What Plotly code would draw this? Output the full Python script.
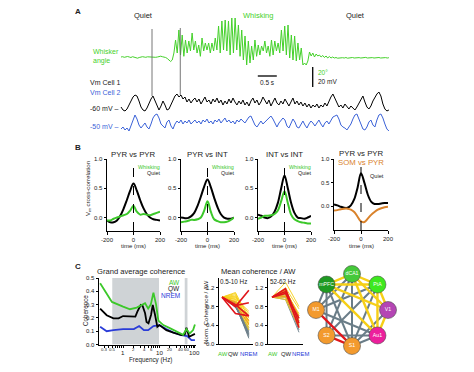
import numpy as np
import plotly.graph_objects as go

W, H = 474, 372
FONT = "Liberation Sans, Arial, Helvetica, sans-serif"

# ======================= DATA =======================
# ---- Panel A : example traces (sampled uniformly over the recording) ----
trace_duration_s = 7.05
whisker_angle_deg = [
    0, 0.3, -0.3, 0, 0.5, 0, -0.5, 0.3, 0, -0.8, -1.2, -0.5, 0, 0.3, 0, -0.3,
    0.2, 0, 0.5, 0.3, 0, -0.3, 0, 0.4, 0.8, 0.3, 0, -0.5, -1.5, -3, -4.5, -3,
    4,
    17, 4, 27, 2, 22, 0.7, 17, 4, 16, 6, 24, 7, 16, 4, 12, 0.7, 19, 6, 14, 7,
    14, 4, 14, 6, 19, 7, 31, 4, 36, 7, 37, 6, 36, 2, 39, 4, 39, 7, 32, 0.7,
    27, -3, 21, -8, 16, -6, 11, -3, 17, 0.7, 12, 2, 11, 6, 16, 4, 11, 0.7,
    17, 2, 16, 6, 14, 4, 27, 6, 31, 2, 32, -1, 22, -3, 21, -4, 14, -3, 9, -8,
    -6, -8, -4, 5, 1, 4, 0, 3, 1, 2, 0, 1.5, -0.5, 1, -1, 0.5, -1, 0, -1, -0.5,
    -1.2, -0.8, -1, -0.7, -1, -0.5, -1.2, -0.8, -1, -0.5, -1, -0.8, -1.2, -0.6,
    -1, -0.8, -1, -0.4, -1, -0.8, -1.2, -0.6, -1, -0.8, -1, -0.5, -1, -0.8,
    -1.2, -0.6, -1, -0.7,
]
vm_cell1_mV = [
    -58, -61, -62, -60, -56, -52, -48, -46, -47, -52, -58, -61, -62, -59, -54, -50,
    -47, -52, -58, -61, -57, -52, -56, -61, -60, -55, -50, -47, -45, -48, -46, -50,
    -48, -53, -50, -54, -51, -49, -53, -50, -55, -52, -48, -53, -51, -55, -50, -53,
    -49, -54, -51, -56, -52, -55, -50, -54, -49, -53, -56, -52, -55, -51, -56, -53,
    -57, -52, -49, -54, -51, -56, -53, -48, -52, -55, -51, -57, -53, -49, -54, -56,
    -52, -55, -50, -54, -57, -53, -49, -55, -52, -56, -53, -57, -54, -58, -55, -59,
    -56, -58, -55, -59, -56, -58, -54, -57, -52, -48, -45, -50, -55, -58, -56, -59,
    -55, -58, -60, -57, -59, -61, -58, -54, -50, -47, -53, -58, -60, -57, -52, -48,
    -45, -43, -47, -55, -60, -62, -61,
]
vm_cell2_mV = [
    -52, -50, -53, -51, -54, -49, -42, -38, -42, -48, -51, -48, -46, -50, -52, -47,
    -41, -38, -37, -41, -47, -49, -51, -45, -43, -49, -52, -47, -44, -46, -43, -47,
    -44, -46, -43, -47, -45, -43, -46, -44, -47, -43, -45, -42, -46, -44, -47, -43,
    -45, -42, -46, -44, -41, -45, -43, -46, -44, -47, -43, -45, -42, -44, -46, -43,
    -40, -39, -43, -48, -50, -47, -44, -47, -45, -42, -40, -39, -42, -47, -50, -46,
    -43, -41, -43, -49, -51, -46, -42, -45, -50, -51, -47, -44, -48, -51, -47, -44,
    -46, -49, -46, -43, -47, -50, -46, -44, -47, -43, -40, -39, -38, -42, -48, -50,
    -51, -53, -50, -47, -42, -38, -37, -42, -49, -52, -53, -50, -45, -43, -48, -50,
    -43, -38, -37, -41, -47, -52, -54,
]
spike_times_s = [0.816, 1.56]
spike_base_mV = [-47, -46]
spike_peak_mV = [20, 21]
state_names = ["Quiet", "Whisking", "Quiet"]
state_label_times_s = [0.58, 3.6, 6.18]

# ---- Panel B : Vm cross-correlations ----
lag_ms = [-200, -175, -150, -125, -100, -75, -50, -25, 0, 25, 50, 75, 100, 125, 150, 175, 200]
xcorr_titles = ["PYR vs PYR", "PYR vs INT", "INT vs INT", "PYR vs PYR"]
xcorr_quiet = [
    [-0.05, -0.08, -0.08, -0.05, 0.03, 0.15, 0.30, 0.46, 0.58, 0.46, 0.30, 0.16, 0.06, 0.0, -0.03, -0.04, -0.05],
    [0.0, -0.01, -0.01, 0.02, 0.08, 0.20, 0.36, 0.53, 0.65, 0.52, 0.34, 0.18, 0.06, 0.0, -0.02, -0.02, 0.0],
    [0.05, 0.03, 0.0, -0.01, 0.02, 0.10, 0.25, 0.50, 0.72, 0.50, 0.25, 0.08, 0.0, -0.01, -0.02, 0.0, 0.03],
    [0.04, 0.02, -0.01, -0.03, -0.03, 0.02, 0.15, 0.40, 0.70, 0.50, 0.25, 0.10, 0.05, 0.05, 0.06, 0.07, 0.07],
]
xcorr_whisking = [
    [-0.05, -0.05, -0.02, 0.0, 0.02, 0.04, 0.06, 0.12, 0.20, 0.10, 0.05, 0.06, 0.05, 0.04, 0.06, 0.08, 0.10],
    [-0.08, -0.07, -0.06, -0.04, -0.04, -0.03, 0.0, 0.12, 0.28, 0.10, -0.03, -0.06, -0.08, -0.08, -0.07, -0.04, 0.0],
    [-0.02, 0.0, 0.03, 0.03, 0.04, 0.06, 0.12, 0.28, 0.45, 0.25, 0.05, -0.03, -0.06, -0.08, -0.09, -0.10, -0.10],
    None,
]
xcorr_som_pyr = [-0.09, -0.08, -0.06, -0.05, -0.05, -0.07, -0.12, -0.22, -0.32, -0.33, -0.26, -0.18, -0.12, -0.07, -0.04, -0.02, -0.01]

# ---- Panel C : coherence ----
freq_aw = [0.23, 0.32, 0.49, 1.0, 1.56, 2.4, 3.3, 4.1, 5.0, 5.9, 7.0, 8.3, 9.6, 13.2, 20, 31, 47, 58, 72, 89, 100]
coh_aw = [0.46, 0.40, 0.32, 0.285, 0.265, 0.277, 0.30, 0.31, 0.27, 0.30, 0.39, 0.30, 0.18, 0.146, 0.123, 0.095, 0.073, 0.116, 0.083, 0.108, 0.15]
freq_qw = [0.23, 0.35, 0.54, 0.75, 1.0, 1.56, 2.2, 2.5, 3.1, 3.5, 4.1, 4.5, 5.1, 6.0, 6.7, 7.8, 9.0, 10.3, 16, 25, 42, 52, 58, 69, 89, 100]
coh_qw = [0.27, 0.22, 0.197, 0.197, 0.214, 0.21, 0.21, 0.247, 0.297, 0.29, 0.235, 0.17, 0.16, 0.222, 0.298, 0.22, 0.133, 0.146, 0.108, 0.09, 0.07, 0.075, 0.126, 0.058, 0.07, 0.08]
freq_nrem = [0.23, 0.35, 0.54, 1.0, 2.0, 2.8, 3.8, 5.0, 7.0, 10.3, 16, 25, 42, 61, 80, 100]
coh_nrem = [0.133, 0.10, 0.108, 0.116, 0.116, 0.139, 0.108, 0.108, 0.139, 0.146, 0.116, 0.09, 0.07, 0.063, 0.033, 0.033]
shaded_bands_hz = [[0.5, 10], [52, 62]]
freq_tick_small = [0.3, 0.5, 2, 4, 6, 20, 40, 60]
freq_tick_decade = [1, 10, 100]

states = ["AW", "QW", "NREM"]
# each row: normalized coherence at AW, QW, NREM
c2_gray = [[1, 0.85, 0.15], [1, 0.82, 0.20], [1, 0.80, 0.25], [1, 0.88, 0.30], [1, 0.84, 0.12],
           [1, 0.78, 0.35], [1, 0.86, 0.22], [1, 0.83, 0.28], [1, 0.80, 0.18]]
c2_yellow = [[1, 1.05, 0.45], [1, 1.10, 0.55], [1, 0.95, 0.35], [1, 1.00, 0.60], [1, 0.92, 0.50],
             [1, 1.08, 0.40], [1, 0.98, 0.70], [1, 0.90, 0.30], [1, 1.02, 0.65], [1, 0.96, 0.48]]
c2_orange = [[1, 0.90, 0.50], [1, 0.86, 0.42]]
c2_red = [[1, 0.80, 1.15], [1, 0.82, 0.88], [1, 0.65, 0.60], [1, 0.84, 0.60]]
c3_gray = [[1, 1.05, 0.40], [1, 1.00, 0.30], [1, 0.95, 0.25], [1, 1.10, 0.50]]
c3_yellow = [[1, 1.32, 0.80], [1, 1.20, 0.75], [1, 1.15, 0.60], [1, 1.10, 0.55], [1, 1.05, 0.50],
             [1, 1.00, 0.45], [1, 0.95, 0.35], [1, 1.12, 0.65], [1, 1.08, 0.40]]
c3_orange = [[1, 1.15, 0.60], [1, 1.02, 0.42]]
c3_red = [[1, 1.18, 0.45], [1, 1.12, 0.35], [1, 1.08, 0.55]]

network_nodes = ["dCA1", "PtA", "V1", "Au1", "S1", "S2", "M1", "mPFC"]
node_colors = ["#45c93a", "#3ee81f", "#b446b4", "#ec1f9c", "#f39a2e", "#f39a2e", "#f39a2e", "#1f9a22"]
edges_gray = [("mPFC", "M1"), ("mPFC", "S2"), ("mPFC", "S1"), ("dCA1", "M1"), ("dCA1", "S2"),
              ("dCA1", "S1"), ("PtA", "S2"), ("PtA", "S1"), ("PtA", "M1"), ("S1", "Au1"),
              ("S2", "Au1"), ("M1", "Au1"), ("V1", "S1")]
edges_yellow = [("mPFC", "dCA1"), ("mPFC", "PtA"), ("dCA1", "PtA"), ("mPFC", "V1"), ("mPFC", "Au1"),
                ("dCA1", "V1"), ("dCA1", "Au1"), ("PtA", "V1"), ("PtA", "Au1"), ("V1", "Au1")]
edges_red = [("M1", "S1"), ("S2", "S1")]

# ======================= STYLE =======================
GREEN = "#45d12b"
GREEN_B = "#3cc82a"
BLUE_A = "#3b62d8"
BLUE_N = "#2a3cd8"
ORANGE = "#d9822b"
GRAY_L = "#6a7d88"
YELLOW = "#f6cf17"
RED = "#e0161b"
TXT = "#222"


def dx(a, b):
    return [a / W, b / W]


def dy(top, bottom):
    return [1 - bottom / H, 1 - top / H]


def axstyle(**kw):
    d = dict(showline=True, linecolor="black", linewidth=1, ticks="outside", ticklen=2.5,
             tickwidth=1, tickcolor="black", showgrid=False, zeroline=False,
             tickfont=dict(size=6, family=FONT, color=TXT), fixedrange=True, tickangle=0)
    d.update(kw)
    return d


fig = go.Figure()
layout = dict(width=W, height=H, margin=dict(l=0, r=0, t=0, b=0, autoexpand=False),
              paper_bgcolor="white", plot_bgcolor="rgba(0,0,0,0)", showlegend=False,
              font=dict(family=FONT, size=7, color="black"), hovermode=False)
annotations = []
shapes = []


def ann(text, px, py, size=7, color="black", xanchor="center", **kw):
    annotations.append(dict(text=text, x=px / W, y=1 - py / H, xref="paper", yref="paper",
                            showarrow=False, xanchor=xanchor, yanchor="middle",
                            font=dict(size=size, color=color, family=FONT), **kw))


# ======================= PANEL A =======================
A_T0_PX, A_PPS = 121, 38.0
layout["xaxis"] = dict(domain=dx(115, 395), range=[(115 - A_T0_PX) / A_PPS, (395 - A_T0_PX) / A_PPS],
                       visible=False, anchor="y", fixedrange=True)
layout["yaxis"] = dict(domain=dy(10, 75), range=[57 - 75, 57 - 10], visible=False, anchor="x", fixedrange=True)
layout["yaxis2"] = dict(domain=dy(20, 130), range=[49 - 130, 49 - 20], visible=False, anchor="x", fixedrange=True)
layout["yaxis3"] = dict(domain=dy(100, 140), range=[77 - 140, 77 - 100], visible=False, anchor="x", fixedrange=True)

t_w = np.linspace(0, trace_duration_s, len(whisker_angle_deg))
t_v1 = np.linspace(0, trace_duration_s, len(vm_cell1_mV))
t_v2 = np.linspace(0, trace_duration_s, len(vm_cell2_mV))
fig.add_trace(go.Scatter(x=t_w, y=whisker_angle_deg, xaxis="x", yaxis="y", mode="lines",
                         line=dict(color=GREEN, width=1)))
sx, sy = [], []
for t, b, p in zip(spike_times_s, spike_base_mV, spike_peak_mV):
    sx += [t, t, None]
    sy += [b, p, None]
fig.add_trace(go.Scatter(x=sx, y=sy, xaxis="x", yaxis="y2", mode="lines", line=dict(color="#666", width=0.9)))
fig.add_trace(go.Scatter(x=t_v1, y=vm_cell1_mV, xaxis="x", yaxis="y2", mode="lines",
                         line=dict(color="black", width=1)))
fig.add_trace(go.Scatter(x=t_v2, y=vm_cell2_mV, xaxis="x", yaxis="y3", mode="lines",
                         line=dict(color=BLUE_A, width=1)))

for name, t in zip(state_names, state_label_times_s):
    annotations.append(dict(text=name, x=t, y=1 - 16 / H, xref="x", yref="paper", showarrow=False,
                            yanchor="middle", font=dict(size=7.5, family=FONT,
                                                        color=GREEN if name == "Whisking" else TXT)))
# scale bars
shapes.append(dict(type="line", xref="x", yref="y2", x0=3.6, x1=4.1, y0=49 - 76, y1=49 - 76,
                   line=dict(color="black", width=1.3)))
shapes.append(dict(type="line", xref="x", yref="y2", x0=5.045, x1=5.045, y0=49 - 67, y1=49 - 87,
                   line=dict(color="black", width=1.3)))
annotations.append(dict(text="0.5 s", x=3.85, y=1 - 82 / H, xref="x", yref="paper", showarrow=False,
                        yanchor="middle", font=dict(size=6.5, family=FONT, color=TXT)))
ann("20°", 316, 72, 6.5, GREEN, "left")
ann("20 mV", 316, 81, 6.5, TXT, "left")
ann("Whisker", 91, 52, 7, GREEN, "left")
ann("angle", 91, 61, 7, GREEN, "left")
ann("Vm Cell 1", 88, 82, 7, TXT, "left")
ann("Vm Cell 2", 88, 92, 7, BLUE_A, "left")
ann("-60 mV –", 88, 109, 7, TXT, "left")
ann("-50 mV –", 88, 127, 7, BLUE_A, "left")
ann("<b>A</b>", 78, 12, 8, TXT)
ann("<b>B</b>", 78, 147, 8, TXT)
ann("<b>C</b>", 78, 266, 8, TXT)

# ======================= PANEL B =======================
b_x = [(107, 160), (181, 234), (258, 311), (334, 388)]
for i in range(4):
    xa, ya = f"xaxis{2 + i}", f"yaxis{4 + i}"
    xr, yr = f"x{2 + i}", f"y{4 + i}"
    if i < 3:
        yrange, ybot = [-0.23, 1.0], 231
    else:
        yrange, ybot = [-0.5, 1.0], 230
    layout[xa] = axstyle(domain=dx(*b_x[i]), range=[-200, 200], anchor=yr,
                         tickvals=[-200, 0, 200], ticktext=["-200", "0", "200"])
    layout[ya] = axstyle(domain=dy(159, ybot), range=yrange, anchor=xr,
                         tickvals=[0, 0.5, 1.0], ticktext=["0.0", "0.5", "1.0"])
    shapes.append(dict(type="line", xref=xr, yref=yr, x0=0, x1=0, y0=yrange[0], y1=0.9,
                       line=dict(color="black", width=1, dash="dash")))
    fig.add_trace(go.Scatter(x=lag_ms, y=xcorr_quiet[i], xaxis=xr, yaxis=yr, mode="lines",
                             line=dict(color="black", width=2, shape="spline")))
    if xcorr_whisking[i] is not None:
        fig.add_trace(go.Scatter(x=lag_ms, y=xcorr_whisking[i], xaxis=xr, yaxis=yr, mode="lines",
                                 line=dict(color=GREEN_B, width=2, shape="spline")))
    else:
        fig.add_trace(go.Scatter(x=lag_ms, y=xcorr_som_pyr, xaxis=xr, yaxis=yr, mode="lines",
                                 line=dict(color=ORANGE, width=2, shape="spline")))
    cx = (b_x[i][0] + b_x[i][1]) / 2
    ann(xcorr_titles[i], cx, 154 if i < 3 else 153, 7.8, TXT)
    ann("time (ms)", cx, 246, 6, TXT)
    if i < 3:
        ann("Whisking", b_x[i][1] + 2, 167, 5.4, GREEN_B, "right")
        ann("Quiet", b_x[i][1] + 2, 173.5, 5.4, TXT, "right")
ann("SOM vs PYR", 361, 162, 7.8, ORANGE)
ann("Quiet", 386, 176, 5.6, TXT, "right")
ann("V<sub>m</sub> cross-correlation", 88, 188, 6.2, TXT, textangle=-90)

# ======================= PANEL C1 =======================
all_ticks = [0.3, 0.4, 0.5, 0.6, 0.7, 0.8, 0.9, 1, 2, 3, 4, 5, 6, 7, 8, 9, 10, 20, 30, 40, 50, 60, 70, 80, 90, 100]
layout["xaxis6"] = axstyle(domain=dx(99, 196), type="log", range=[-0.67, 2.03], anchor="y8",
                           tickvals=all_ticks, showticklabels=False, ticklen=2)
layout["yaxis8"] = axstyle(domain=dy(278, 344.5), range=[0, 0.5], anchor="x6",
                           tickvals=[0, 0.1, 0.2, 0.3, 0.4, 0.5],
                           ticktext=["0.0", "0.1", "0.2", "0.3", "0.4", "0.5"])
for lo, hi in shaded_bands_hz:
    fig.add_trace(go.Scatter(x=[lo, hi, hi, lo, lo], y=[0, 0, 0.5, 0.5, 0], xaxis="x6", yaxis="y8",
                             mode="lines", fill="toself", fillcolor="#cfd3d6", line=dict(width=0)))
fig.add_trace(go.Scatter(x=freq_nrem, y=coh_nrem, xaxis="x6", yaxis="y8", mode="lines",
                         line=dict(color=BLUE_N, width=1.8)))
fig.add_trace(go.Scatter(x=freq_qw, y=coh_qw, xaxis="x6", yaxis="y8", mode="lines",
                         line=dict(color="black", width=1.8)))
fig.add_trace(go.Scatter(x=freq_aw, y=coh_aw, xaxis="x6", yaxis="y8", mode="lines",
                         line=dict(color=GREEN_B, width=1.8)))
for v in freq_tick_small:
    annotations.append(dict(text=str(v), x=np.log10(v), y=1 - 349 / H, xref="x6", yref="paper",
                            showarrow=False, yanchor="middle",
                            font=dict(size=4.3, family=FONT, color=TXT)))
for v in freq_tick_decade:
    annotations.append(dict(text=str(v), x=np.log10(v), y=1 - 352.5 / H, xref="x6", yref="paper",
                            showarrow=False, yanchor="middle",
                            font=dict(size=6.2, family=FONT, color=TXT)))
ann("Grand average coherence", 141, 271, 7.6, TXT)
ann("Frequency (Hz)", 150, 359.5, 6.3, TXT)
ann("Coherence", 85, 311, 6.3, TXT, textangle=-90)
ann("AW", 182, 282, 6.5, GREEN_B, "right")
ann("QW", 182, 288.5, 6.5, TXT, "right")
ann("NREM", 182, 295, 6.5, BLUE_N, "right")

# ======================= PANEL C2 / C3 =======================
c_panels = [("xaxis7", "yaxis9", "x7", "y9", (219, 253), [-0.23, 2.31],
             [c2_gray, c2_yellow, c2_orange, c2_red], [223, 233.5, 248.5]),
            ("xaxis8", "yaxis10", "x8", "y10", (268, 303), [-0.296, 2.296],
             [c3_gray, c3_yellow, c3_orange, c3_red], [273, 286, 300])]
grp_style = [(GRAY_L, 0.9), (YELLOW, 0.9), ("#f0a020", 1.1), (RED, 1.6)]
state_colors = [GREEN_B, TXT, BLUE_N]
for xa, ya, xr, yr, dom, xrng, groups, lab_px in c_panels:
    layout[xa] = axstyle(domain=dx(*dom), range=xrng, anchor=yr, ticks="",
                         tickvals=[0, 1, 2], showticklabels=False)
    layout[ya] = axstyle(domain=dy(278, 344), range=[0, 1.41], anchor=xr,
                         tickvals=[0, 0.4, 0.8, 1.2], ticktext=["0.0", "0.4", "0.8", "1.2"])
    for g, (col, wdt) in zip(groups, grp_style):
        for row in g:
            fig.add_trace(go.Scatter(x=[0, 1, 2], y=row, xaxis=xr, yaxis=yr, mode="lines",
                                     line=dict(color=col, width=wdt)))
    for s, c, lp in zip(states, state_colors, lab_px):
        ann(s, lp, 353.5, 5.9, c)
ann("Mean coherence / AW", 258, 271, 7.6, TXT)
ann("0.5-10 Hz", 233, 281, 6.3, TXT)
ann("52-62 Hz", 283, 281, 6.3, TXT)
ann("Norm. Coherence / AW", 205, 312, 6.2, TXT, textangle=-90)

# ======================= NETWORK =======================
R_PX, CX, CY = 36.0, 352, 310
layout["xaxis9"] = dict(domain=dx(300, 405), range=[(300 - CX) / R_PX, (405 - CX) / R_PX],
                        visible=False, anchor="y11", fixedrange=True)
layout["yaxis11"] = dict(domain=dy(262, 360), range=[(CY - 360) / R_PX, (CY - 262) / R_PX],
                         visible=False, anchor="x9", fixedrange=True)
n = len(network_nodes)
ang = np.pi / 2 - np.arange(n) * 2 * np.pi / n
pos = {nm: (np.cos(a), np.sin(a)) for nm, a in zip(network_nodes, ang)}
for edges, col, wdt in [(edges_gray, GRAY_L, 2.0), (edges_yellow, YELLOW, 2.4), (edges_red, RED, 2.4)]:
    ex, ey = [], []
    for a, b in edges:
        ex += [pos[a][0], pos[b][0], None]
        ey += [pos[a][1], pos[b][1], None]
    fig.add_trace(go.Scatter(x=ex, y=ey, xaxis="x9", yaxis="y11", mode="lines",
                             line=dict(color=col, width=wdt)))
fig.add_trace(go.Scatter(x=[pos[k][0] for k in network_nodes], y=[pos[k][1] for k in network_nodes],
                         xaxis="x9", yaxis="y11", mode="markers+text", text=network_nodes,
                         textposition="middle center",
                         textfont=dict(size=5.2, color="white", family=FONT),
                         marker=dict(size=17, color=node_colors,
                                     line=dict(color="rgba(70,70,70,0.7)", width=0.8))))

layout["annotations"] = annotations
layout["shapes"] = shapes
fig.update_layout(**layout)
fig.write_html("out.html", config={"displayModeBar": False, "staticPlot": True},
               post_script="document.body.style.margin='0px';")
